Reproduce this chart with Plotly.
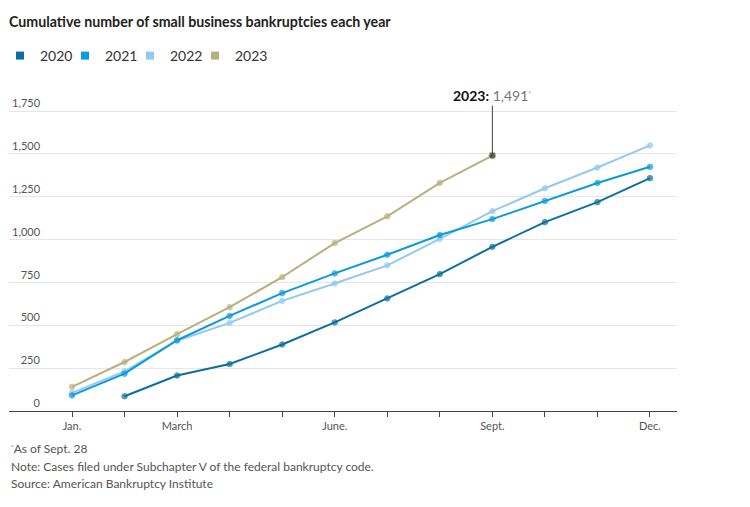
import plotly.graph_objects as go

# ---- data ----
months = list(range(1, 13))
month_labels = ["Jan.", "", "March", "", "", "June.", "", "", "Sept.", "", "", "Dec."]
y_tickvals = [0, 250, 500, 750, 1000, 1250, 1500, 1750]
y_ticklabels = ["0", "250", "500", "750", "1,000", "1,250", "1,500", "1,750"]

x_2020 = [2, 3, 4, 5, 6, 7, 8, 9, 10, 11, 12]
v_2020 = [86, 207, 274, 388, 517, 657, 799, 958, 1102, 1219, 1359]
x_2021 = months
v_2021 = [91, 218, 413, 555, 688, 803, 912, 1027, 1120, 1226, 1331, 1425]
x_2022 = months
v_2022 = [106, 231, 410, 514, 643, 744, 850, 1004, 1166, 1300, 1421, 1550]
x_2023 = [1, 2, 3, 4, 5, 6, 7, 8, 9]
v_2023 = [141, 286, 448, 606, 781, 980, 1136, 1331, 1491]

colors = {"2020": "#0c6f9f", "2021": "#0a9bd9", "2022": "#93caee", "2023": "#b9b17d"}

W, H = 750, 507
ML, MR, MT, MB = 9, 73, 94, 96
FONT = "Lato"


def pad(label):
    # right-align labels with figure/punctuation spaces
    digits = sum(c.isdigit() for c in label)
    if digits >= 4:
        return label
    return "\u2007" * (4 - digits) + "\u2008" + label


fig = go.Figure()

series = [("2022", x_2022, v_2022), ("2020", x_2020, v_2020),
          ("2021", x_2021, v_2021), ("2023", x_2023, v_2023)]
for name, xs, vs in series:
    mcol = [colors[name]] * len(vs)
    msize = [5.5] * len(vs)
    if name == "2023":
        mcol[-1] = "#222222"
        msize[-1] = 7
    fig.add_trace(go.Scatter(
        x=xs, y=vs, mode="lines+markers", name=name, showlegend=False,
        line=dict(color=colors[name], width=2),
        marker=dict(color=mcol, size=msize),
        hoverinfo="skip"))

for name in ["2020", "2021", "2022", "2023"]:
    fig.add_trace(go.Scatter(
        x=[None], y=[None], mode="markers", name=name,
        marker=dict(symbol="square", size=8, color=colors[name])))
# invisible spacer entry so the last legend label is not clipped
fig.add_trace(go.Scatter(
    x=[None], y=[None], mode="markers", name="\u2007",
    marker=dict(symbol="square", size=8, color="rgba(0,0,0,0)")))

fig.add_annotation(
    x=x_2023[-1], y=v_2023[-1], xref="x", yref="y",
    text="<b>2023:</b> <span style='color:#777'>" + f"{v_2023[-1]:,}" +
         "</span><span style='color:#8fa3c0;font-size:10px'><sup>*</sup></span>",
    showarrow=True, arrowhead=0, arrowwidth=1, arrowcolor="#444",
    ax=0, ay=-60, font=dict(family=FONT, size=14, color="#111"))

notes = ["<span style='font-size:9px'><sup>*</sup></span>As of Sept. 28",
         "Note: Cases filed under Subchapter V of the federal bankruptcy code.",
         "Source: American Bankruptcy Institute"]
note_py = [448, 466, 484]
plot_h = H - MT - MB
for t, py in zip(notes, note_py):
    fig.add_annotation(
        x=0, xref="paper", xanchor="left",
        y=(H - MB - py) / plot_h, yref="paper", yanchor="middle",
        text=t, showarrow=False, align="left",
        font=dict(family=FONT, size=12, color="#555"))

fig.update_layout(
    width=W, height=H,
    margin=dict(l=ML, r=MR, t=MT, b=MB),
    paper_bgcolor="white", plot_bgcolor="white",
    title=dict(text="<b>Cumulative number of small business bankruptcies each year</b>",
               x=ML / W, xref="container", xanchor="left",
               y=1 - 22 / H, yref="container", yanchor="middle",
               font=dict(family=FONT, size=14.2, color="#222")),
    legend=dict(orientation="h", x=-0.0115, xref="container", xanchor="left",
                y=1 - 56 / H, yref="container", yanchor="middle",
                entrywidth=20, entrywidthmode="pixels",
                font=dict(family=FONT, size=14, color="#333"),
                itemclick=False, itemdoubleclick=False),
    xaxis=dict(range=[-0.199, 12.514], tickmode="array", tickvals=months,
               ticktext=month_labels, showgrid=False, zeroline=False,
               showline=True, linecolor="#444", linewidth=1,
               ticks="outside", ticklen=5, tickcolor="#444",
               tickfont=dict(family=FONT, size=11, color="#555")),
    yaxis=dict(range=[0, 1850], tickmode="array", tickvals=y_tickvals,
               ticktext=[pad(s) for s in y_ticklabels],
               showgrid=True, gridcolor="#e6e6e6", gridwidth=1, zeroline=False,
               showline=False, ticklabelposition="inside top",
               tickfont=dict(family=FONT, size=11, color="#555")),
    hovermode=False,
)

fig.write_html("out.html")
